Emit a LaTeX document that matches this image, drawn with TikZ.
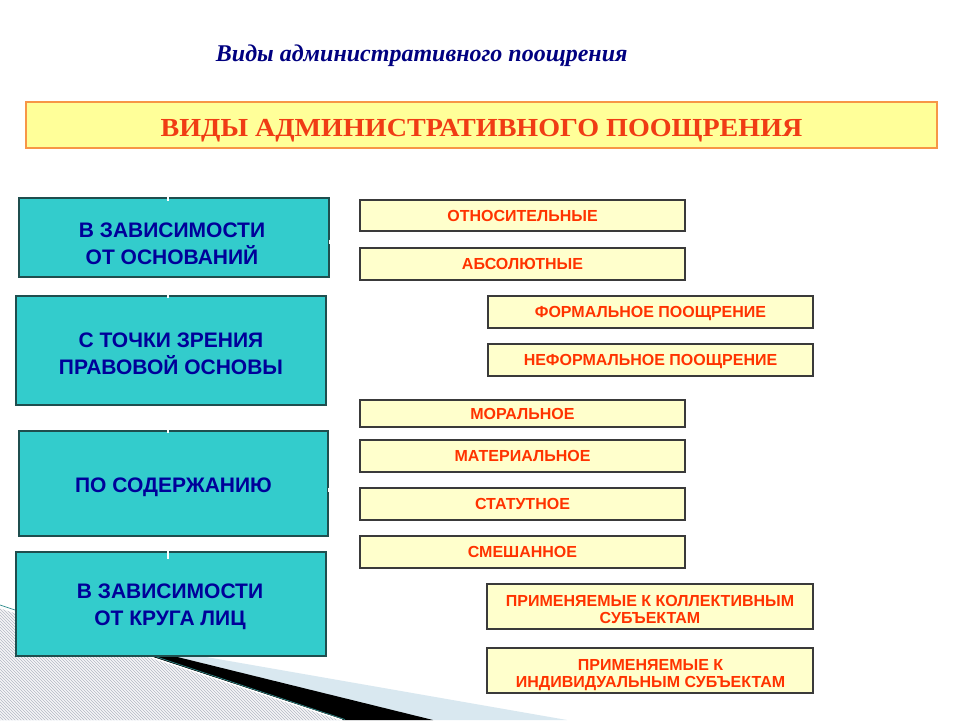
\documentclass[tikz,border=0pt]{standalone}
\usepackage{fontspec}
\setmainfont{Liberation Sans}
\newfontfamily\titlefont{Liberation Serif}
\newfontfamily\headfont[FakeStretch=1.08]{Liberation Serif}
\usetikzlibrary{patterns}
\definecolor{tealfill}{HTML}{33CCCC}
\definecolor{tealline}{HTML}{1F4E4E}
\definecolor{navytext}{HTML}{000099}
\definecolor{boxyellow}{HTML}{FFFFCC}
\definecolor{boxline}{HTML}{3A3A3A}
\definecolor{hdryellow}{HTML}{FFFF99}
\definecolor{hdrline}{HTML}{F79646}
\definecolor{redtext}{HTML}{FF3300}
\definecolor{hdrtext}{HTML}{F03C14}
\definecolor{titleblue}{HTML}{000080}
\definecolor{lightwedge}{HTML}{D9E8F0}
\definecolor{hatchbg}{HTML}{F6F6F8}
\definecolor{hatchline}{HTML}{B4B8C4}
\definecolor{edgeteal}{HTML}{2E8B8B}
\begin{document}
\begin{tikzpicture}[x=1pt,y=-1pt,
  tealbox/.style={draw=tealline, line width=1.3pt, fill=tealfill, inner sep=0pt},
  tealtext/.style={text=navytext, font=\fontsize{21}{27}\selectfont\bfseries, align=center, inner sep=0pt},
  ybox/.style={draw=boxline, line width=1.3pt, fill=boxyellow, inner sep=0pt,
    text=redtext, font=\fontsize{16}{17}\selectfont\bfseries, text height=11.5pt, text depth=0pt},
  ytext/.style={text=redtext, font=\fontsize{16}{17}\selectfont\bfseries, align=center, inner sep=0pt},
  tickmark/.style={draw=white, line width=1.5pt}
]
\useasboundingbox (0,0) rectangle (960,720);
\fill[white] (0,0) rectangle (960,720);

% bottom-left decoration
\fill[lightwedge] (0,621) -- (567,720) -- (0,720) -- cycle;
\fill[black] (76,632) -- (433,720) -- (343,720) -- cycle;
\fill[hatchbg] (0,607) -- (343,720) -- (0,720) -- cycle;
\fill[pattern=north west lines, pattern color=hatchline] (0,607) -- (343,720) -- (0,720) -- cycle;
\draw[edgeteal, line width=0.7pt] (0,605) -- (345,719.5);
\draw[white, line width=1.4pt] (0,607.5) -- (342,720);

% title
\node[font=\titlefont\bfseries\itshape\fontsize{24}{28}\selectfont, text=titleblue, inner sep=0pt, anchor=base] (title) at (421.7,61.7) {Виды административного поощрения};

% header
\node[draw=hdrline, line width=1.8pt, fill=hdryellow, minimum width=911pt, minimum height=46pt, inner sep=0pt,
  font=\headfont\bfseries\fontsize{26}{30}\selectfont, text=hdrtext, text height=23.4pt, text depth=0pt] (hdr) at (481.5,125) {ВИДЫ АДМИНИСТРАТИВНОГО ПООЩРЕНИЯ};

% left teal boxes
\node[tealbox, minimum width=310pt, minimum height=79pt] (b1) at (174,237.5) {};
\node[tealbox, minimum width=310pt, minimum height=109pt] (b2) at (171,350.5) {};
\node[tealbox, minimum width=309pt, minimum height=105pt] (b3) at (173.5,483.5) {};
\node[tealbox, minimum width=310pt, minimum height=104pt] (b4) at (171,604) {};

\node[tealtext] (t1) at (172,244) {В ЗАВИСИМОСТИ\\ ОТ ОСНОВАНИЙ};
\node[tealtext] (t2) at (171,354) {С ТОЧКИ ЗРЕНИЯ\\ПРАВОВОЙ ОСНОВЫ};
\node[tealtext, anchor=base] (t3) at (173.5,492) {ПО СОДЕРЖАНИЮ};
\node[tealtext] (t4) at (170,607) {В ЗАВИСИМОСТИ\\ ОТ КРУГА ЛИЦ};

% small white marks on the teal boxes
\draw[tickmark] ([xshift=-6pt]b1.north) -- ++(0,4);
\draw[tickmark] ([yshift=-2pt]b1.east) -- ++(0,4);
\draw[tickmark] ([xshift=-3pt]b2.north) -- ++(0,3);
\draw[tickmark] ([xshift=-5.5pt]b3.north) -- ++(0,3);
\draw[tickmark] ([yshift=-4pt]b3.east) -- ++(0,4);
\draw[tickmark] ([xshift=-3pt]b4.north) -- ++(0,8);

% right yellow boxes
\node[ybox, minimum width=325pt, minimum height=31pt] (y1) at (522.5,215.5) {ОТНОСИТЕЛЬНЫЕ};
\node[ybox, minimum width=325pt, minimum height=32pt] (y2) at (522.5,264) {АБСОЛЮТНЫЕ};
\node[ybox, minimum width=325pt, minimum height=32pt] (y3) at (650.5,312) {ФОРМАЛЬНОЕ ПООЩРЕНИЕ};
\node[ybox, minimum width=325pt, minimum height=32pt] (y4) at (650.5,360) {НЕФОРМАЛЬНОЕ ПООЩРЕНИЕ};
\node[ybox, minimum width=325pt, minimum height=27pt] (y5) at (522.5,413.5) {МОРАЛЬНОЕ};
\node[ybox, minimum width=325pt, minimum height=32pt] (y6) at (522.5,456) {МАТЕРИАЛЬНОЕ};
\node[ybox, minimum width=325pt, minimum height=32pt] (y7) at (522.5,504) {СТАТУТНОЕ};
\node[ybox, minimum width=325pt, minimum height=32pt] (y8) at (522.5,552) {СМЕШАННОЕ};
\node[ybox, minimum width=326pt, minimum height=45pt] (y9) at (650,606.5) {};
\node[ybox, minimum width=326pt, minimum height=45pt] (y10) at (650,670.5) {};
\node[ytext] (t9) at (650,609) {ПРИМЕНЯЕМЫЕ К КОЛЛЕКТИВНЫМ\\СУБЪЕКТАМ};
\node[ytext] (t10) at (650.5,675) {ПРИМЕНЯЕМЫЕ К\\ИНДИВИДУАЛЬНЫМ СУБЪЕКТАМ};
\end{tikzpicture}
\end{document}
